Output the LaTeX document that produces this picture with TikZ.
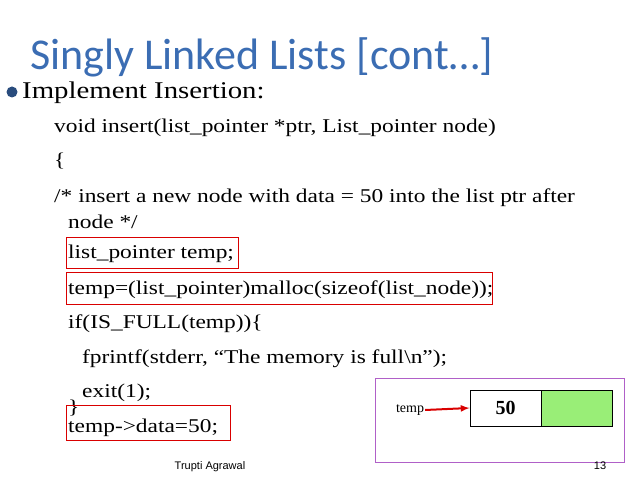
\documentclass[tikz,border=0pt]{standalone}
\usepackage{fontspec}
\setmainfont[FakeStretch=1.2]{Liberation Serif}
\newfontfamily\titlefont{Carlito}
\newfontfamily\footfont{Liberation Sans}
\newfontfamily\plainserif{Liberation Serif}
\definecolor{titleblue}{HTML}{3B6DB3}
\definecolor{boxgreen}{HTML}{99EE77}
\definecolor{purp}{HTML}{B060C8}
\tikzset{code/.style={anchor=base west,font=\fontsize{19.5}{19.5}\selectfont,inner sep=0pt},
redbox/.style={draw=red!85!black,line width=0.8pt}}
\begin{document}
\begin{tikzpicture}[x=1pt,y=-1pt]
\useasboundingbox (0,0) rectangle (638,478);
\node[anchor=base west,inner sep=0pt,text=titleblue,font=\titlefont\fontsize{44}{44}\selectfont] (title) at (30,70) {Singly Linked Lists [cont…]};
\fill[titleblue!70!black] (12,92) circle (5.5) coordinate (bul);
\node[anchor=base west,inner sep=0pt,font=\fontsize{24}{24}\selectfont] (h) at (22,99) {Implement Insertion:};
\node[code] (l1) at (54,133) {void insert(list\_pointer *ptr, List\_pointer node)};
\node[code] (l2) at (54,167) {\{};
\node[code] (l3) at (54,203) {/* insert a new node with data = 50 into the list ptr after};
\node[code] (l4) at (68,229) {node */};
\node[code] (l5) at (68,259) {list\_pointer temp;};
\node[code] (l6) at (68,295) {temp=(list\_pointer)malloc(sizeof(list\_node));};
\node[code] (l7) at (68,329) {if(IS\_FULL(temp))\{};
\node[code] (l8) at (82,364) {fprintf(stderr, “The memory is full\textbackslash n”);};
\node[code] (l9) at (82,398) {exit(1);};
\node[code] (l10) at (68,414) {\}};
\node[code] (l11) at (68,433) {temp->data=50;};
\draw[redbox] (66,237) rectangle (238,268);
\draw[redbox] (66,272) rectangle (492,304);
\draw[redbox] (66,405) rectangle (230,440);
\draw[purp,line width=0.8pt] (375,378) rectangle (624,462);
\node[draw,thick,minimum width=71,minimum height=36,inner sep=0pt,font=\plainserif\bfseries\fontsize{20}{20}\selectfont] (d) at (505.5,408) {50};
\node[draw,thick,fill=boxgreen,minimum width=71,minimum height=36,inner sep=0pt] (n) at (576.5,408) {};
\node[font=\plainserif\fontsize{14}{14}\selectfont,inner sep=1pt] (t) at (410,410) {temp};
\draw[-latex,red!85!black,line width=2pt] (t.east) -- (d.west);
\node[anchor=base,font=\footfont\fontsize{11}{11}\selectfont] (f1) at (210,470) {Trupti Agrawal};
\node[anchor=base,font=\footfont\fontsize{11}{11}\selectfont] (f2) at (600,470) {13};
\end{tikzpicture}
\end{document}
